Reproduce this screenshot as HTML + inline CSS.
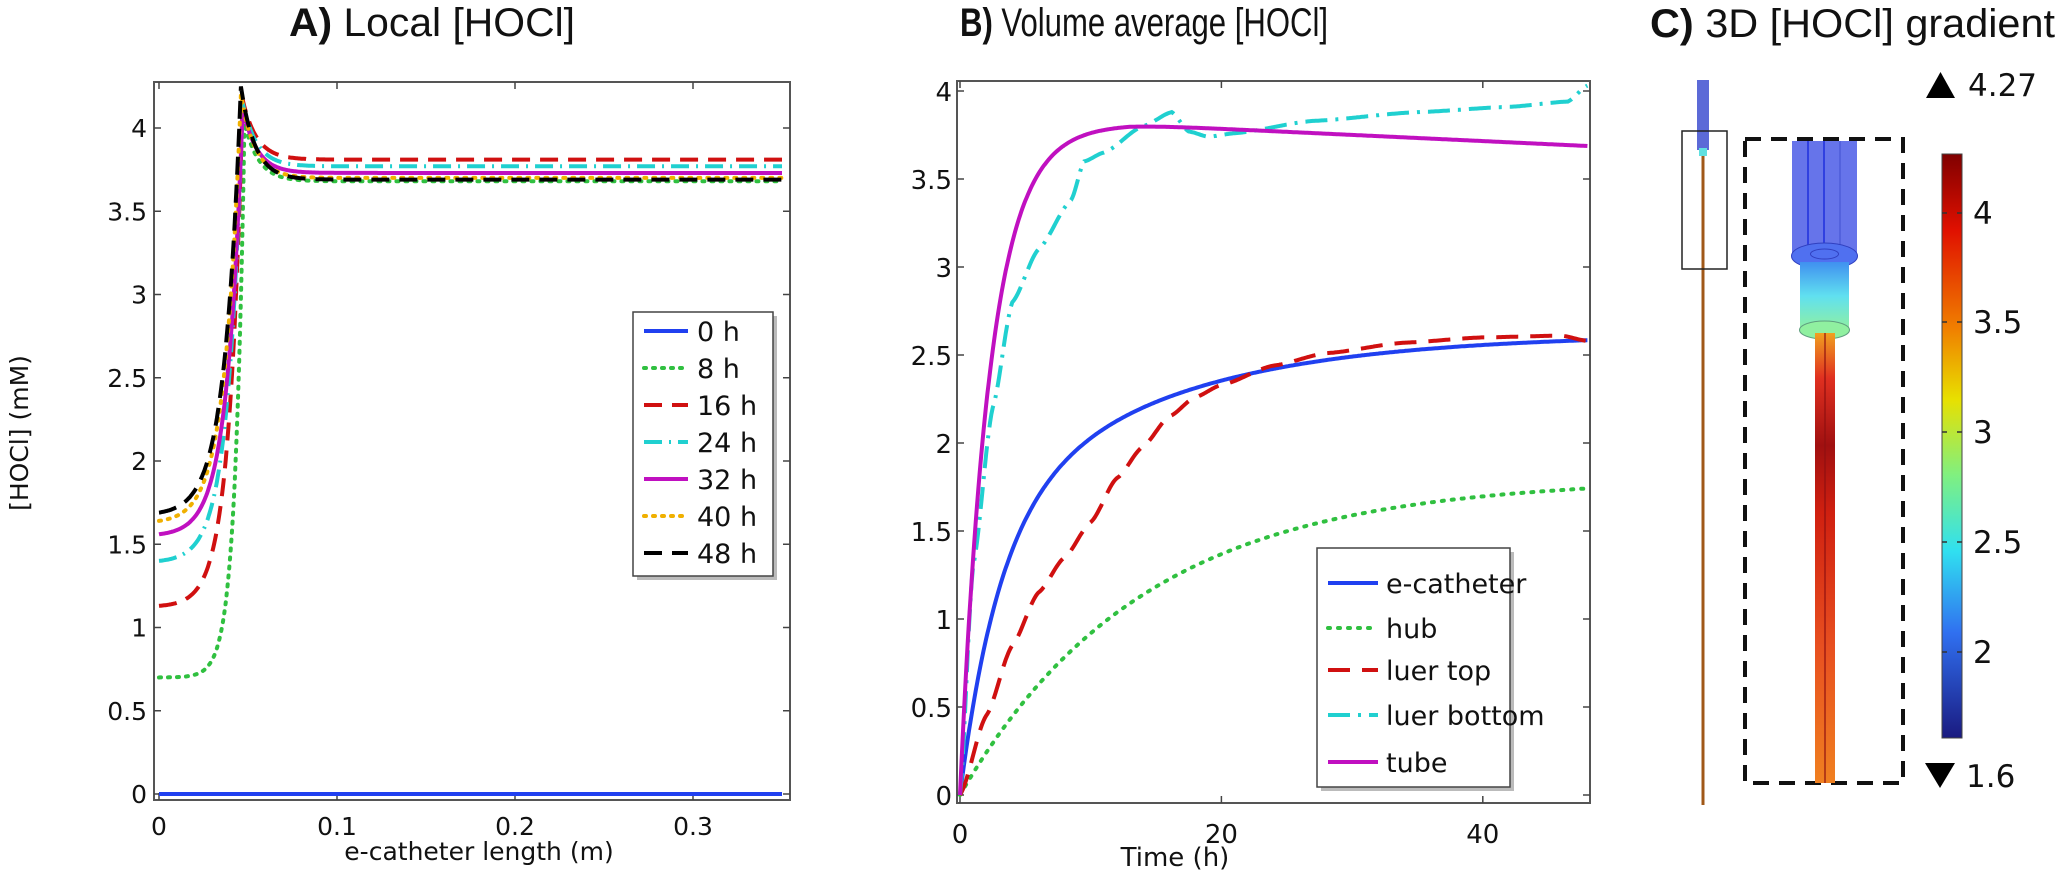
<!DOCTYPE html>
<html><head><meta charset="utf-8"><style>
html,body{margin:0;padding:0;background:#fff;}
svg{display:block;}
text{font-family:"DejaVu Sans","Liberation Sans",sans-serif;fill:#111;}
.t{font-family:"Liberation Sans",sans-serif;font-size:40px;}
</style></head><body>
<svg id="s" width="2059" height="871" viewBox="0 0 2059 871" xmlns="http://www.w3.org/2000/svg">
<defs>
<linearGradient id="jet" x1="0" y1="0" x2="0" y2="1">
<stop offset="0" stop-color="#800000"/><stop offset="0.13" stop-color="#e01000"/>
<stop offset="0.3" stop-color="#f08000"/><stop offset="0.42" stop-color="#e8e000"/>
<stop offset="0.55" stop-color="#80f080"/><stop offset="0.68" stop-color="#30e0f0"/>
<stop offset="0.82" stop-color="#3070f0"/><stop offset="1" stop-color="#1a1a80"/>
</linearGradient>
<linearGradient id="tubeg" x1="0" y1="0" x2="0" y2="1">
<stop offset="0" stop-color="#f0a020"/><stop offset="0.1" stop-color="#e03020"/>
<stop offset="0.25" stop-color="#a01010"/><stop offset="0.4" stop-color="#d02010"/>
<stop offset="0.7" stop-color="#e85020"/><stop offset="1" stop-color="#f08020"/>
</linearGradient>
<linearGradient id="cyg" x1="0" y1="0" x2="0" y2="1">
<stop offset="0" stop-color="#4090f0"/><stop offset="0.5" stop-color="#60e0f0"/><stop offset="1" stop-color="#90f0a0"/>
</linearGradient>
</defs>

<text class="t" x="289" y="36" textLength="286" lengthAdjust="spacingAndGlyphs"><tspan font-weight="bold">A)</tspan> Local [HOCl]</text>
<text class="t" x="960" y="36" textLength="368" lengthAdjust="spacingAndGlyphs"><tspan font-weight="bold">B)</tspan> Volume average [HOCl]</text>
<text class="t" x="1650" y="37" textLength="405" lengthAdjust="spacingAndGlyphs"><tspan font-weight="bold">C)</tspan> 3D [HOCl] gradient</text>

<g id="A"></g>
<g id="B"></g>

<g>
<rect x="1701.5" y="150" width="3" height="655" fill="#a05818"/>
<rect x="1697" y="80" width="12" height="70" fill="#4050d0" opacity="0.85"/>
<rect x="1699" y="148" width="8" height="8" fill="#60e0e0"/>
<rect x="1682" y="131" width="45" height="138" fill="none" stroke="#222" stroke-width="1.5"/>
<rect x="1745" y="139" width="158" height="644" fill="none" stroke="#111" stroke-width="4" stroke-dasharray="16,10"/>
<rect x="1792" y="141" width="65" height="115" fill="#5565e8" opacity="0.9"/>
<line x1="1808" y1="141" x2="1808" y2="256" stroke="#3040e0" stroke-width="2"/>
<line x1="1824" y1="141" x2="1824" y2="256" stroke="#3040e0" stroke-width="2"/>
<line x1="1840" y1="141" x2="1840" y2="256" stroke="#4050d0" stroke-width="1"/>
<ellipse cx="1824.5" cy="256" rx="33" ry="13" fill="#5070f0" stroke="#3040c0" stroke-width="1"/>
<ellipse cx="1824.5" cy="254" rx="14" ry="5" fill="none" stroke="#3040c0" stroke-width="1"/>
<rect x="1800" y="262" width="49" height="68" fill="url(#cyg)"/>
<ellipse cx="1824.5" cy="330" rx="25" ry="9" fill="#90f0a0" stroke="#60a080" stroke-width="1"/>
<rect x="1815" y="333" width="20" height="450" fill="url(#tubeg)"/>
<line x1="1825" y1="333" x2="1825" y2="783" stroke="#901010" stroke-width="2" opacity="0.6"/>
<rect x="1942" y="154" width="20" height="584" fill="url(#jet)" stroke="#444" stroke-width="1"/>
<g stroke="#333" stroke-width="1.5">
<line x1="1942" y1="213" x2="1947" y2="213"/><line x1="1957" y1="213" x2="1962" y2="213"/>
<line x1="1942" y1="322" x2="1947" y2="322"/><line x1="1957" y1="322" x2="1962" y2="322"/>
<line x1="1942" y1="432" x2="1947" y2="432"/><line x1="1957" y1="432" x2="1962" y2="432"/>
<line x1="1942" y1="542" x2="1947" y2="542"/><line x1="1957" y1="542" x2="1962" y2="542"/>
<line x1="1942" y1="652" x2="1947" y2="652"/><line x1="1957" y1="652" x2="1962" y2="652"/>
</g>
<g font-size="31">
<text x="1973" y="224">4</text><text x="1973" y="333">3.5</text>
<text x="1973" y="443">3</text><text x="1973" y="553">2.5</text><text x="1973" y="663">2</text>
<text x="1968" y="96">4.27</text><text x="1966" y="787">1.6</text>
</g>
<polygon points="1926,98 1955,98 1940.5,72" fill="#000"/>
<polygon points="1925,763 1955,763 1940,788" fill="#000"/>
</g>
</svg>
<script>
var NS="http://www.w3.org/2000/svg";
function el(p,tag,attrs,txt){var e=document.createElementNS(NS,tag);for(var k in attrs)e.setAttribute(k,attrs[k]);if(txt!=null)e.textContent=txt;p.appendChild(e);return e;}
function pathFrom(pts){return pts.map(function(p,i){return (i?"L":"M")+p[0].toFixed(1)+","+p[1].toFixed(1);}).join("");}
function interp(pts,t){for(var i=1;i<pts.length;i++){if(t<=pts[i][0]){var a=pts[i-1],b=pts[i];var f=(t-a[0])/(b[0]-a[0]);var s=f*f*(3-2*f);f=0.5*f+0.5*s;return a[1]+(b[1]-a[1])*f;}}return pts[pts.length-1][1];}

var A=document.getElementById("A");
var ax0=154,ax1=790,ay0=82,ay1=800;
function AX(x){return 159+x*1780;} function AY(v){return 794-v*166.5;}
el(A,"rect",{x:ax0,y:ay0,width:ax1-ax0,height:ay1-ay0,fill:"none",stroke:"#555","stroke-width":2});
[0,0.1,0.2,0.3].forEach(function(x){var px=AX(x);
 el(A,"line",{x1:px,y1:ay1,x2:px,y2:ay1-7,stroke:"#444","stroke-width":1.5});
 el(A,"line",{x1:px,y1:ay0,x2:px,y2:ay0+7,stroke:"#444","stroke-width":1.5});
 el(A,"text",{x:px,y:835,"font-size":25,"text-anchor":"middle"},x===0?"0":String(x));});
for(var i=0;i<=8;i++){var v=i/2,py=AY(v);
 el(A,"line",{x1:ax0,y1:py,x2:ax0+7,y2:py,stroke:"#444","stroke-width":1.5});
 el(A,"line",{x1:ax1,y1:py,x2:ax1-7,y2:py,stroke:"#444","stroke-width":1.5});
 el(A,"text",{x:147,y:py+9,"font-size":25,"text-anchor":"end"},String(v));}
el(A,"text",{x:479,y:860,"font-size":25,"text-anchor":"middle"},"e-catheter length (m)");
el(A,"text",{x:0,y:0,"font-size":25,"text-anchor":"middle",transform:"translate(28,433) rotate(-90)"},"[HOCl] (mM)");
var seriesA=[
 {v0:0,pk:0,pl:0,k:100,xp:0.046,c:"#2040f0",d:""},
 {v0:0.70,pk:4.03,pl:3.68,k:190,xp:0.048,c:"#30c040",d:"2,7",cap:"round"},
 {v0:1.13,pk:4.17,pl:3.81,k:130,xp:0.047,c:"#d01010",d:"18,10"},
 {v0:1.40,pk:4.15,pl:3.77,k:120,xp:0.047,c:"#20d0d0",d:"18,7,2,7"},
 {v0:1.56,pk:4.12,pl:3.73,k:115,xp:0.047,c:"#c010c0",d:""},
 {v0:1.64,pk:4.20,pl:3.70,k:112,xp:0.046,c:"#f0b000",d:"2,7",cap:"round"},
 {v0:1.69,pk:4.25,pl:3.69,k:110,xp:0.046,c:"#000000",d:"18,10"}];
seriesA.forEach(function(s){var pts=[];
 for(var x=0;x<=0.35001;x+=0.0005){var v;
  if(x<=s.xp){v=s.v0+(s.pk-s.v0)*(Math.exp(s.k*x)-1)/(Math.exp(s.k*s.xp)-1);}
  else{v=s.pl+(s.pk-s.pl)*Math.exp(-(x-s.xp)/0.008);}
  pts.push([AX(x),AY(v)]);}
 var a={d:pathFrom(pts),fill:"none",stroke:s.c,"stroke-width":4};
 if(s.d){a["stroke-dasharray"]=s.d;} if(s.cap)a["stroke-linecap"]=s.cap;
 el(A,"path",a);});
el(A,"rect",{x:637,y:316,width:140,height:264,fill:"#bbb"});
el(A,"rect",{x:633,y:312,width:140,height:264,fill:"#fff",stroke:"#444","stroke-width":1.5});
["0 h","8 h","16 h","24 h","32 h","40 h","48 h"].forEach(function(lb,i){var y=331+i*37,s=seriesA[i];
 var a={x1:644,y1:y,x2:688,y2:y,stroke:s.c,"stroke-width":4};if(s.d)a["stroke-dasharray"]=s.d;if(s.cap)a["stroke-linecap"]=s.cap;
 el(A,"line",a);el(A,"text",{x:697,y:y+10,"font-size":27},lb);});

var B=document.getElementById("B");
var bx0=957,bx1=1590,by0=81,by1=803;
function BX(t){return 960+t*13.07;} function BY(v){return 795-v*176;}
el(B,"rect",{x:bx0,y:by0,width:bx1-bx0,height:by1-by0,fill:"none",stroke:"#555","stroke-width":2});
[0,20,40].forEach(function(t){var px=BX(t);
 el(B,"line",{x1:px,y1:by1,x2:px,y2:by1-7,stroke:"#444","stroke-width":1.5});
 el(B,"line",{x1:px,y1:by0,x2:px,y2:by0+7,stroke:"#444","stroke-width":1.5});
 el(B,"text",{x:px,y:843,"font-size":26,"text-anchor":"middle"},String(t));});
for(var i=0;i<=8;i++){var v=i/2,py=BY(v);
 el(B,"line",{x1:bx0,y1:py,x2:bx0+7,y2:py,stroke:"#444","stroke-width":1.5});
 el(B,"line",{x1:bx1,y1:py,x2:bx1-7,y2:py,stroke:"#444","stroke-width":1.5});
 el(B,"text",{x:952,y:py+10,"font-size":26,"text-anchor":"end"},String(v));}
el(B,"text",{x:1175,y:866,"font-size":26,"text-anchor":"middle"},"Time (h)");
var cyanPts=[[0,0],[1,1.3],[2.5,2.2],[4,2.8],[6,3.1],[8.5,3.38],[9.5,3.6],[11,3.65],[14,3.8],[16.2,3.88],[17.5,3.77],[19,3.74],[21,3.76],[27,3.83],[35,3.88],[42,3.91],[46.5,3.94],[48,4.03]];
var redPts=[[0,0],[2,0.45],[4,0.85],[6,1.15],[8,1.35],[10,1.55],[12,1.8],[14,1.98],[16,2.15],[18,2.26],[20,2.33],[24,2.44],[28,2.51],[34,2.57],[40,2.6],[46,2.61],[48,2.58]];
var seriesB=[
 {f:function(t){return 2.62-1.52*Math.exp(-t/3)-1.1*Math.exp(-t/14);},c:"#2040f0",d:"",lb:"e-catheter"},
 {f:function(t){return 1.8*(1-Math.exp(-t/14));},c:"#30c040",d:"2,8",cap:"round",lb:"hub"},
 {f:function(t){return interp(redPts,t);},c:"#d01010",d:"22,12",lb:"luer top"},
 {f:function(t){return interp(cyanPts,t);},c:"#20d0d0",d:"22,8,3,8",lb:"luer bottom"},
 {f:function(t){return 3.81*(1-Math.exp(-t/2.3))-Math.max(0,t-13)*0.0035;},c:"#c010c0",d:"",lb:"tube"}];
seriesB.forEach(function(s){var pts=[];
 for(var t=0;t<=48.001;t+=0.1){pts.push([BX(t),BY(s.f(t))]);}
 var a={d:pathFrom(pts),fill:"none",stroke:s.c,"stroke-width":4};
 if(s.d)a["stroke-dasharray"]=s.d;if(s.cap)a["stroke-linecap"]=s.cap;
 el(B,"path",a);});
el(B,"rect",{x:1321,y:552,width:193,height:239,fill:"#bbb"});
el(B,"rect",{x:1317,y:548,width:193,height:239,fill:"#fff",stroke:"#444","stroke-width":1.5});
var rows=[583,628,670,715,762];
seriesB.forEach(function(s,i){var y=rows[i];
 var a={x1:1328,y1:y,x2:1378,y2:y,stroke:s.c,"stroke-width":4};if(s.d)a["stroke-dasharray"]=s.d;if(s.cap)a["stroke-linecap"]=s.cap;
 el(B,"line",a);el(B,"text",{x:1386,y:y+10,"font-size":27},s.lb);});
</script>
</body></html>
